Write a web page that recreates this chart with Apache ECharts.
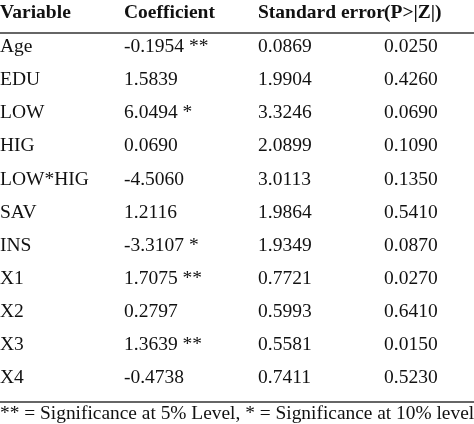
<!DOCTYPE html>
<html><head><meta charset="utf-8">
<script src="https://cdn.jsdelivr.net/npm/echarts@6/dist/echarts.min.js"></script>
<style>html,body{margin:0;padding:0;background:#fff}#c{width:474px;height:424px}</style>
</head><body><div id="c"></div>
<script>
const headers = ["Variable", "Coefficient", "Standard error", "(P>|Z|)"];
const variables = ["Age","EDU","LOW","HIG","LOW*HIG","SAV","INS","X1","X2","X3","X4"];
const coefficients = ["-0.1954 **","1.5839","6.0494 *","0.0690","-4.5060","1.2116","-3.3107 *","1.7075 **","0.2797","1.3639 **","-0.4738"];
const stdErrors = ["0.0869","1.9904","3.3246","2.0899","3.0113","1.9864","1.9349","0.7721","0.5993","0.5581","0.7411"];
const pValues = ["0.0250","0.4260","0.0690","0.1090","0.1350","0.5410","0.0870","0.0270","0.6410","0.0150","0.5230"];
const footnote = "** = Significance at 5% Level, * = Significance at 10% level";

const colX = [0, 124, 258, 384];
const font = '"Liberation Serif", "DejaVu Serif", serif';
const els = [];
function txt(x, y, s, bold, size) {
  els.push({type:'text', x:x, y:y, style:{text:s, fill:'#111', font:(bold?'bold ':'')+size+'px '+font, textVerticalAlign:'middle'}});
}
headers.forEach((h,i)=>txt(colX[i], 13, h, true, 19.5));
const cols = [variables, coefficients, stdErrors, pValues];
variables.forEach((v,r)=>{
  const y = 47 + r*33.1;
  cols.forEach((c,i)=>txt(colX[i], y, c[r], false, 19.5));
});
els.push({type:'line', shape:{x1:0,y1:33,x2:474,y2:33}, style:{stroke:'#666', lineWidth:2}});
els.push({type:'line', shape:{x1:0,y1:402,x2:474,y2:402}, style:{stroke:'#666', lineWidth:2}});
txt(0, 414, footnote, false, 19.4);

const chart = echarts.init(document.getElementById('c'));
chart.setOption({animation:false, graphic:{elements:els}});
</script></body></html>
